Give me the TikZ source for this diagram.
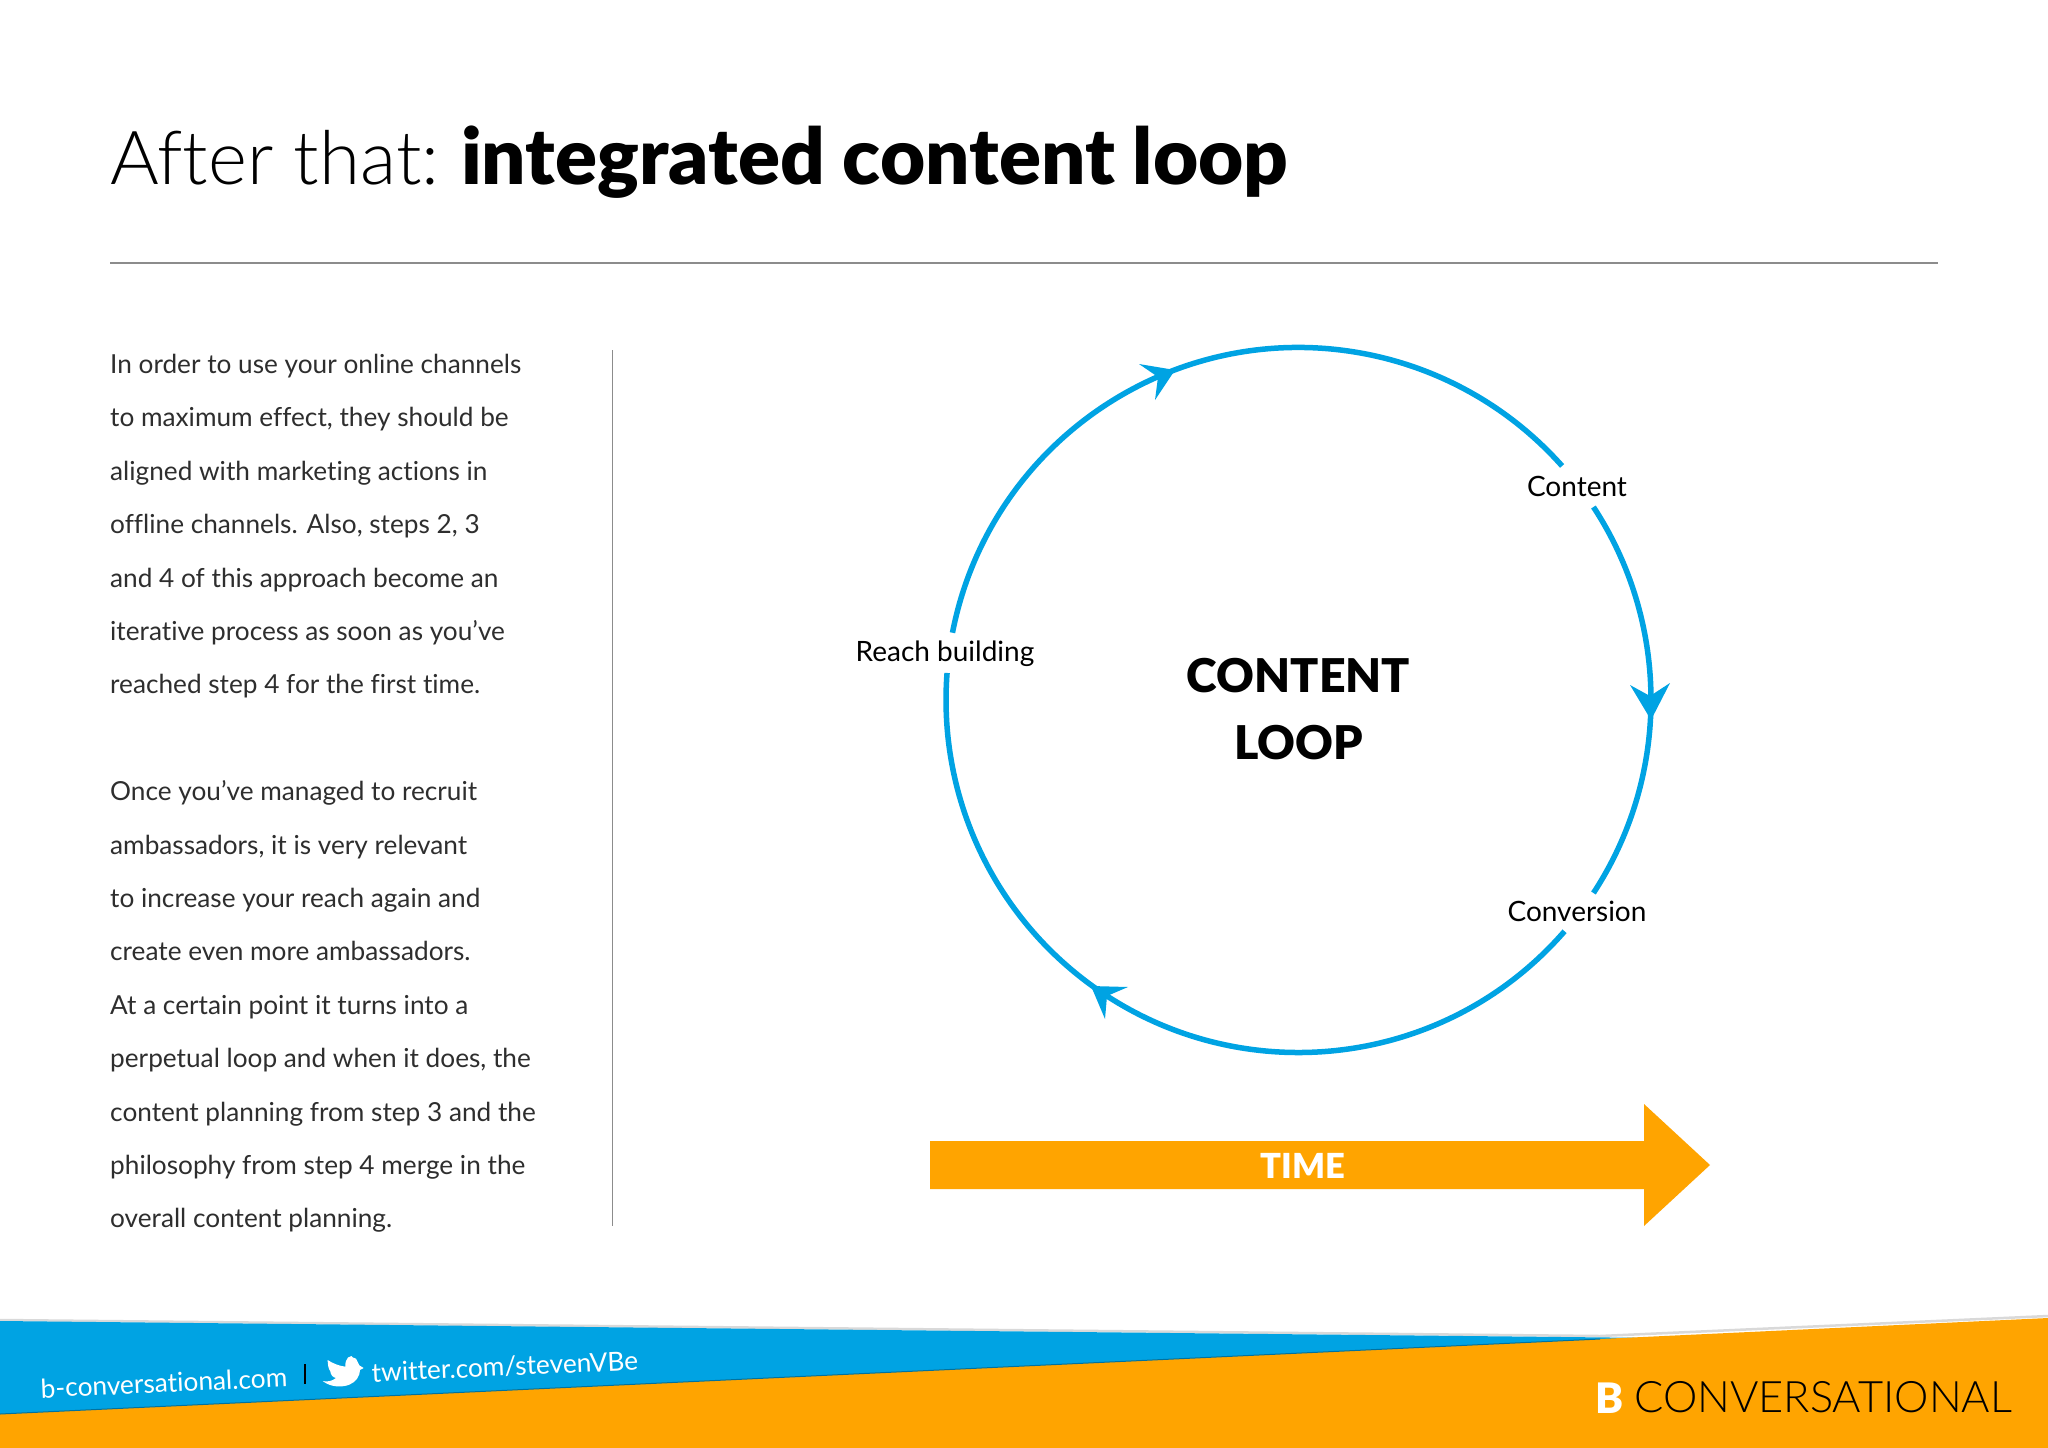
\documentclass[tikz,border=0pt]{standalone}
\usepackage{fontspec}
\setmainfont{Lato}
\newfontfamily\lightf{Lato Light}[Ligatures=NoCommon]
\newfontfamily\regf{Lato}[Ligatures=NoCommon]
\newfontfamily\heavyf{Lato Black}[Ligatures=NoCommon]
\definecolor{bblue}{HTML}{00A3E3}
\definecolor{borange}{HTML}{FFA400}
\definecolor{rulegray}{HTML}{8C8C8C}
\definecolor{bodytxt}{HTML}{2E2E2E}
\newcommand{\fsz}[1]{\fontsize{#1}{#1}\selectfont}
\tikzset{
  bodyline/.style={anchor=base west,inner sep=0pt,text=bodytxt,font=\regf\fsz{26.2}},
  looplabel/.style={inner sep=0pt,text=black,font=\regf\fsz{28}},
  loopline/.style={draw=bblue,line width=5.5pt},
  loophead/.style={fill=bblue,draw=none},
  hairline/.style={draw=rulegray,line width=1.5pt},
  foot/.style={anchor=base west,inner sep=0pt,text=white,font=\regf\fsz{26.3},rotate=2.6}
}
\begin{document}
\begin{tikzpicture}[x=1pt,y=-1pt]
\useasboundingbox (0,0) rectangle (2048,1448);
\fill[white] (0,0) rectangle (2048,1448);
% title
\node[anchor=base west,inner sep=0pt] (title) at (110,184)
  {\fsz{74.5}{\lightf After that:}\hspace{22pt}\fsz{78}{\heavyf integrated content loop}};
\draw[hairline] (110,263) -- (1938,263);
\draw[hairline] (612.5,350) -- (612.5,1226);
% body
\foreach \t [count=\i from 0] in {
 In order to use your online channels,
 {to maximum effect, they should be},
 aligned with marketing actions in,
 {offline channels. Also, steps 2, 3},
 and 4 of this approach become an,
 iterative process as soon as you’ve,
 reached step 4 for the first time.,
 {},
 Once you’ve managed to recruit,
 {ambassadors, it is very relevant},
 to increase your reach again and,
 create even more ambassadors.,
 At a certain point it turns into a,
 {perpetual loop and when it does, the},
 content planning from step 3 and the,
 philosophy from step 4 merge in the,
 overall content planning.}
 {\node[bodyline] (body\i) at (110,{373.5+53.4*\i}) {\t};}
% loop
\coordinate (c) at (1298.5,700);
\draw[loopline] (c) ++(169:352.5pt) arc[start angle=169,end angle=41.6,radius=352.5pt];
\draw[loopline] (c) ++(33.2:352.5pt) arc[start angle=33.2,end angle=-33.2,radius=352.5pt];
\draw[loopline] (c) ++(-41:352.5pt) arc[start angle=-41,end angle=-184.4,radius=352.5pt];
\fill[loophead] (1175,370) -- (1139,364) -- (1158,377) -- (1155,400) -- cycle;
\fill[loophead] (1651,720) -- (1630,685) -- (1650,696) -- (1670,683) -- cycle;
\fill[loophead] (1091,986) -- (1128,987) -- (1107,996) -- (1105,1019) -- cycle;
\node[looplabel] (content) at (1577,486) {Content};
\node[looplabel] (conversion) at (1577,911) {Conversion};
\node[looplabel] (reach) at (945,654) {Reach building};
\node[inner sep=0pt,align=center,font=\heavyf\fsz{46.5}] (loopname) at (1298.5,709)
  {\parbox[c][32pt][c]{300pt}{\centering CONTENT}\\[20pt]\parbox[c][32pt][c]{300pt}{\centering LOOP}};
% time arrow
\fill[borange] (930,1141) -- (1644,1141) -- (1644,1104) -- (1710,1165) -- (1644,1226) -- (1644,1189) -- (930,1189) -- cycle;
\node[inner sep=0pt,text=white,font=\heavyf\fsz{34.5}] (time) at (1303,1166) {TIME};
% footer
\draw[draw=black!15,line width=2.5pt] (0,1320) -- (1600,1336) -- (2048,1316);
\fill[bblue] (0,1321) -- (1660,1338) -- (0,1414) -- cycle;
\fill[borange] (0,1414) -- (2048,1318) -- (2048,1448) -- (0,1448) -- cycle;
\draw[black!30!bblue,line width=1pt] (0,1414) -- (1600,1339);
\node[foot] (site) at (41,1398) {b-conversational.com};
\draw[black,line width=2pt] (305,1364) -- (305,1384);
\begin{scope}[shift={(296,1346)},x=0.3333pt,y=-0.3333pt]
\fill[white] (150,45) .. controls (152,36) and (158,32) .. (166,30)
 .. controls (168,33) and (172,36) .. (180,38)
 .. controls (184,45) and (188,54) .. (190,58)
 -- (203,66) -- (192,72)
 .. controls (192,90) and (180,108) .. (160,116)
 .. controls (140,124) and (105,125) .. (80,105)
 .. controls (92,108) and (108,106) .. (120,96)
 .. controls (110,94) and (104,86) .. (103,76)
 .. controls (97,68) and (95,54) .. (95,42)
 .. controls (110,52) and (130,60) .. (148,62)
 .. controls (148,56) and (148,50) .. (150,45) -- cycle;
\end{scope}
\node[foot] (tw) at (372,1382) {twitter.com/stevenVBe};
\node[anchor=base west,inner sep=0pt,text=white,font=\heavyf\fsz{42}] (bmark) at (1595,1413) {B};
\node[anchor=base west,inner sep=0pt,text=black,font=\lightf\fsz{43.4}] (brand) at (1634,1412) {CONVERSATIONAL};
\end{tikzpicture}
\end{document}
